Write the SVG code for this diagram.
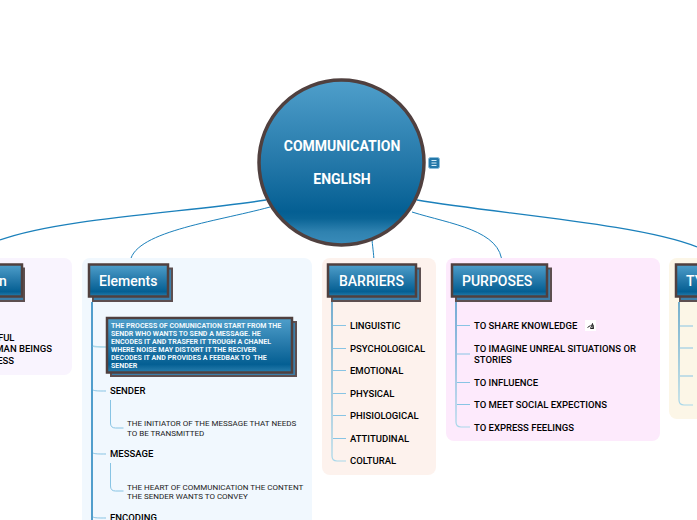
<svg xmlns="http://www.w3.org/2000/svg" width="697" height="520" viewBox="0 0 697 520">
<defs>
<linearGradient id="g" x1="0" y1="0" x2="0" y2="1"><stop offset="0" stop-color="#4f9fcb"/><stop offset="0.5" stop-color="#2478a9"/><stop offset="0.85" stop-color="#045f93"/><stop offset="1" stop-color="#2a7fae"/></linearGradient>
<linearGradient id="c" x1="0" y1="0" x2="0" y2="1"><stop offset="0" stop-color="#4f9fcb"/><stop offset="0.5" stop-color="#2478a9"/><stop offset="0.8" stop-color="#045f93"/><stop offset="0.84" stop-color="#0a6496"/><stop offset="0.92" stop-color="#2f82b0"/><stop offset="1" stop-color="#3a8cba"/></linearGradient>
<linearGradient id="v" x1="0" y1="0" x2="0" y2="1"><stop offset="0" stop-color="#1b80bb"/><stop offset="1" stop-color="#a9d8ea"/></linearGradient>
</defs>
<style>
text{font-family:Roboto,"Liberation Sans",sans-serif}
.h{fill:#fff;font-size:14px;font-weight:500}
.t{fill:#fff;font-size:14px;font-weight:700}
.i{fill:#000;font-size:9.5px;font-weight:500}
.s{fill:#222;font-size:8px}
.w{fill:#f0f8fc;font-size:7.05px;font-weight:700}
.b{fill:url(#g);stroke:#50403f;stroke-width:2.5}
.u{fill:#3d7ea8;stroke:#5d4f50;stroke-width:2}
.l{fill:none;stroke:#1b80bb;stroke-width:1.3}
.n{fill:none;stroke:#1b80bb;stroke-width:1}
.m{fill:none;stroke:#a9d8ea;stroke-width:1.4}
.q{fill:none;stroke:#88c4e4;stroke-width:1}
</style>
<g id="connectors">
<path class="l" d="M266 200C190 212 60 218 0 240"/>
<path class="n" d="M270 207C215 222 130 232 130 264"/>
<path class="n" d="M372 240C373 250 374 256 374 264"/>
<path class="l" d="M417 200C500 214 640 224 697 247"/>
<path class="n" d="M412 212C450 224 502 230 502 264"/>
</g>
<g id="panel-left"><rect x="-40" y="258" width="112" height="117" rx="8" fill="#f9f4fe"/></g>
<g id="panel-elements"><rect x="82" y="258" width="230" height="270" rx="8" fill="#f1f8fe"/></g>
<g id="panel-barriers"><rect x="322" y="258" width="114" height="217" rx="8" fill="#fdf2ed"/></g>
<g id="panel-purposes"><rect x="446" y="258" width="214" height="183" rx="8" fill="#fdeafc"/></g>
<g id="panel-types"><rect x="669" y="258" width="60" height="161" rx="8" fill="#fcf6e7"/></g>
<g id="node-root"><circle cx="341.500" cy="162.500" r="82.500" fill="url(#c)" stroke="#50403f" stroke-width="3.500"/><text class="t" x="342" y="151" text-anchor="middle">COMMUNICATION</text><text class="t" x="342" y="184" text-anchor="middle">ENGLISH</text></g>
<g id="node-note"><rect x="428.500" y="157.500" width="11" height="11" rx="2" fill="#2478a9" stroke="#8dbfdc"/><path d="M431.500 160.500h5M431.500 163h5M431.500 165.500h5" stroke="#d5ecf7" fill="none"/></g>
<g id="node-left"><rect x="-28" y="268.500" width="52" height="32.500" class="u"/><rect x="-32" y="264.500" width="54" height="32" class="b"/><text class="h" x="-1" y="286">n</text><text class="i" x="14.500" y="341" text-anchor="end">FUL</text><text class="i" x="52" y="352" text-anchor="end">MAN BEINGS</text><text class="i" x="14" y="364" text-anchor="end">ESS</text></g>
<g id="node-elements"><path d="M92 302V520" stroke="#1b80bb" stroke-width="1.500" fill="none"/><rect x="93" y="268.500" width="79" height="32.500" class="u"/><rect x="89" y="264.500" width="79" height="32" class="b"/><text class="h" x="99" y="286">Elements</text></g>
<g id="node-process"><path class="m" d="M93 346c2 1 5 1 13 1"/><rect x="111" y="322" width="185" height="54" class="u"/><rect x="107" y="318" width="185" height="54.500" class="b"/>
<text class="w"><tspan x="111" y="328">THE PROCESS OF COMUNICATION START FROM THE</tspan><tspan x="111" y="336">SENDR WHO WANTS TO SEND A MESSAGE. HE</tspan><tspan x="111" y="344">ENCODES IT AND TRASFER IT TROUGH A CHANEL</tspan><tspan x="111" y="352">WHERE NOISE MAY DISTORT IT THE RECIVER</tspan><tspan x="111" y="360">DECODES IT AND PROVIDES A FEEDBAK TO&#160; THE</tspan><tspan x="111" y="368">SENDER</tspan></text></g>
<g id="node-sender"><path class="q" d="M93 390c2 1 5 1 13 1"/><text class="i" x="110" y="394">SENDER</text><path class="q" d="M110.500 400V423q0 5 5 5h8"/><text class="s" x="127" y="426">THE INITIATOR OF THE MESSAGE THAT NEEDS</text><text class="s" x="127" y="436">TO BE TRANSMITTED</text></g>
<g id="node-message"><path class="q" d="M93 453c2 1 5 1 13 1"/><text class="i" x="110" y="457">MESSAGE</text><path class="q" d="M110.500 463V486q0 5 5 5h8"/><text class="s" x="127" y="490">THE HEART OF COMMUNICATION THE CONTENT</text><text class="s" x="127" y="499">THE SENDER WANTS TO CONVEY</text></g>
<g id="node-encoding"><path class="q" d="M93 517c2 1 5 1 13 1"/><text class="i" x="110" y="521">ENCODING</text></g>
<g id="node-barriers"><path d="M332 302V456q0 5 5 5h9" fill="none" stroke="url(#v)" stroke-width="1.200"/><rect x="332" y="268.500" width="88" height="32.500" class="u"/><rect x="328" y="264.500" width="88" height="32" class="b"/><text class="h" x="339" y="286">BARRIERS</text>
<path class="q" d="M333 325.500h13M333 348.500h13M333 370.500h13M333 393.500h13M333 415.500h13M333 438.500h13"/>
<text class="i" x="350" y="329">LINGUISTIC</text><text class="i" x="350" y="352">PSYCHOLOGICAL</text><text class="i" x="350" y="374">EMOTIONAL</text><text class="i" x="350" y="397">PHYSICAL</text><text class="i" x="350" y="419">PHISIOLOGICAL</text><text class="i" x="350" y="442">ATTITUDINAL</text><text class="i" x="350" y="464">COLTURAL</text></g>
<g id="node-purposes"><path d="M456 302V422q0 5 5 5h9" fill="none" stroke="url(#v)" stroke-width="1.200"/><rect x="456" y="268.500" width="95" height="32.500" class="u"/><rect x="452" y="264.500" width="95" height="32" class="b"/><text class="h" x="462" y="286">PURPOSES</text>
<path class="q" d="M457 325.500h13M457 354h13M457 382.500h13M457 404.500h13"/>
<text class="i" x="474" y="329">TO SHARE KNOWLEDGE</text><text class="i" x="474" y="352">TO IMAGINE UNREAL SITUATIONS OR</text><text class="i" x="474" y="363">STORIES</text><text class="i" x="474" y="386">TO INFLUENCE</text><text class="i" x="474" y="408">TO MEET SOCIAL EXPECTIONS</text><text class="i" x="474" y="431">TO EXPRESS FEELINGS</text>
<rect x="585" y="320" width="11" height="11" fill="#fff"/><path d="M587.500 327.500l3-2M590.500 328.500l2-5 1 5zM593 325v4" stroke="#222" fill="none"/></g>
<g id="node-types"><path d="M679 302V400q0 5 5 5h9" fill="none" stroke="url(#v)" stroke-width="1.200"/><rect x="680" y="268.500" width="60" height="32.500" class="u"/><rect x="676" y="264.500" width="60" height="32" class="b"/><text class="h" x="686" y="286">TY</text><path class="q" d="M680 326h13M680 348h13M680 376h13"/></g>
</svg>
